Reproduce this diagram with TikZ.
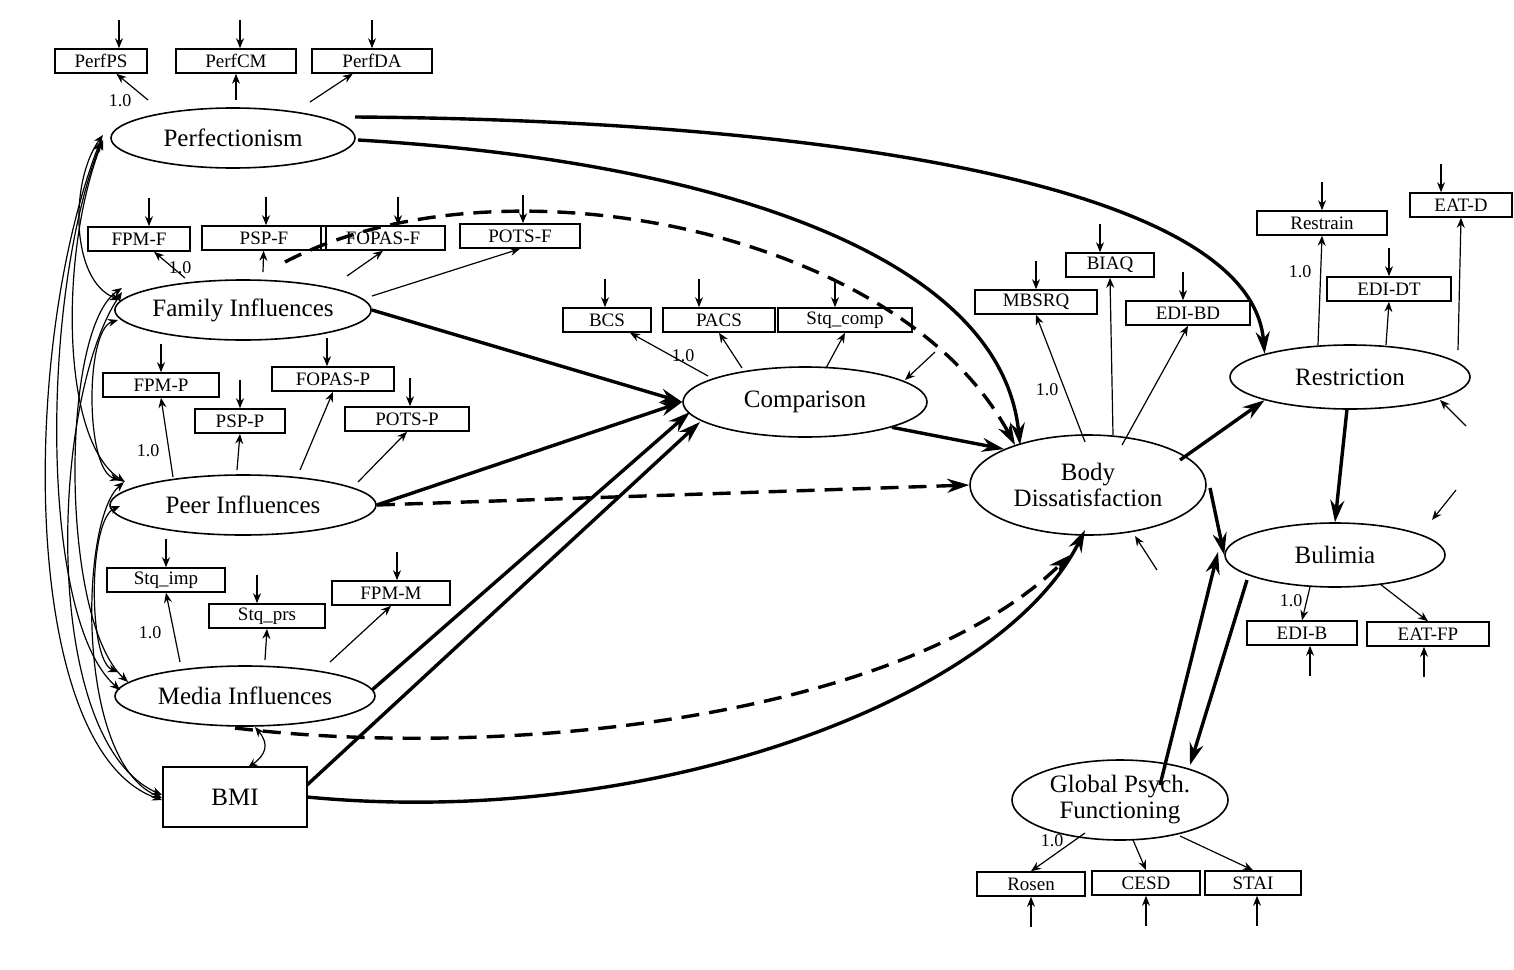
\documentclass[tikz,border=0pt]{standalone}
\usepackage{fontspec}
\setmainfont{Liberation Serif}
\usetikzlibrary{shapes.geometric,arrows.meta,calc}
\begin{document}
\begin{tikzpicture}[x=0.5pt,y=-0.5pt,
 ell/.style={draw,ellipse,line width=0.8pt,inner sep=0pt,font=\fontsize{12.5}{13}\selectfont,align=center},
 bx/.style={draw,rectangle,line width=0.8pt,inner sep=0pt,minimum height=12pt,font=\fontsize{9.5}{10}\selectfont},
 thin/.style={line width=0.6pt,-{Stealth[length=5pt,width=4pt]}},
 err/.style={line width=0.6pt,{Stealth[length=5pt,width=4pt]}-},
 thk/.style={line width=1.7pt,-{Stealth[length=11pt,width=7pt]}},
 dsh/.style={line width=1.7pt,dash pattern=on 9pt off 5pt,-{Stealth[length=11pt,width=7pt]}},
 cov/.style={line width=0.6pt,{Stealth[length=5pt,width=4pt]}-{Stealth[length=5pt,width=4pt]}},
 one/.style={font=\fontsize{9}{10}\selectfont}]
\useasboundingbox (0,0) rectangle (1514,969);
% latent
\node[ell,minimum width=122pt,minimum height=30pt] (perf) at (233,138) {Perfectionism};
\node[ell,minimum width=125pt,minimum height=30pt] (fam) at (243,310) {Family Influences};
\node[ell,minimum width=133pt,minimum height=30pt] (peer) at (243,505) {Peer Influences};
\node[ell,minimum width=130pt,minimum height=30pt] (med) at (245,696) {Media Influences};
\node[draw,rectangle,line width=0.8pt,minimum width=72pt,minimum height=30pt,font=\fontsize{12.5}{13}\selectfont] (bmi) at (235,797) {BMI};
\node[ell,minimum width=122pt,minimum height=35pt] (comp) at (805,402) {Comparison};
\node[ell,minimum width=118pt,minimum height=50pt] (bd) at (1088,485) {Body\\Dissatisfaction};
\node[ell,minimum width=120pt,minimum height=32pt] (res) at (1350,377) {Restriction};
\node[ell,minimum width=110pt,minimum height=32pt] (bul) at (1335,555) {Bulimia};
\node[ell,minimum width=108pt,minimum height=40pt] (gpf) at (1120,800) {Global Psych.\\Functioning};
% boxes
\node[bx,minimum width=46pt] (PerfPS) at (101,61) {PerfPS};
\node[bx,minimum width=60pt] (PerfCM) at (236,61) {PerfCM};
\node[bx,minimum width=60pt] (PerfDA) at (372,61) {PerfDA};
\node[bx,minimum width=51pt] (FPMF) at (139,239) {FPM-F};
\node[bx,minimum width=62pt] (PSPF) at (264,238) {PSP-F};
\node[bx,minimum width=62pt] (FOPASF) at (383,238) {FOPAS-F};
\node[bx,minimum width=60pt] (POTSF) at (520,236) {POTS-F};
\node[bx,minimum width=44pt] (BCS) at (607,320) {BCS};
\node[bx,minimum width=56pt] (PACS) at (719,320) {PACS};
\node[bx,minimum width=67pt] (Stqc) at (845,320) {Stq\_comp};
\node[bx,minimum width=58pt] (FPMP) at (161,385) {FPM-P};
\node[bx,minimum width=45pt] (PSPP) at (240,421) {PSP-P};
\node[bx,minimum width=61pt] (FOPASP) at (333,379) {FOPAS-P};
\node[bx,minimum width=62pt] (POTSP) at (407,419) {POTS-P};
\node[bx,minimum width=59pt] (Stqi) at (166,580) {Stq\_imp};
\node[bx,minimum width=58pt] (Stqp) at (267,616) {Stq\_prs};
\node[bx,minimum width=59pt] (FPMM) at (391,593) {FPM-M};
\node[bx,minimum width=61pt] (MBSRQ) at (1036,302) {MBSRQ};
\node[bx,minimum width=44pt] (BIAQ) at (1110,265) {BIAQ};
\node[bx,minimum width=62pt] (EDIBD) at (1188,313) {EDI-BD};
\node[bx,minimum width=65pt] (Restrain) at (1322,223) {Restrain};
\node[bx,minimum width=51pt] (EATD) at (1461,205) {EAT-D};
\node[bx,minimum width=62pt] (EDIDT) at (1389,289) {EDI-DT};
\node[bx,minimum width=55pt] (EDIB) at (1302,633) {EDI-B};
\node[bx,minimum width=61pt] (EATFP) at (1428,634) {EAT-FP};
\node[bx,minimum width=54pt] (Rosen) at (1031,884) {Rosen};
\node[bx,minimum width=54pt] (CESD) at (1146,883) {CESD};
\node[bx,minimum width=48pt] (STAI) at (1253,883) {STAI};
% error arrows from above
\foreach \n/\dx in {PerfPS/18,PerfCM/4,PerfDA/0,FPMF/10,PSPF/2,FOPASF/15,POTSF/3,BCS/-2,PACS/-20,Stqc/-10,FPMP/0,PSPP/0,FOPASP/-6,POTSP/3,Stqi/0,Stqp/-10,FPMM/6,MBSRQ/0,BIAQ/-10,EDIBD/-5,Restrain/0,EATD/-20,EDIDT/0}
  \draw[err] ($(\n.north)+(\dx,0)$) -- ++(0,-28);
% error arrows from below
\foreach \n/\dx in {EDIB/8,EATFP/-4,Rosen/0,CESD/0,STAI/4}
  \draw[err] ($(\n.south)+(\dx,0)$) -- ++(0,30);
\coordinate (eComp) at (935,352); \draw[thin] (eComp) -- (905,380);
\coordinate (eBD) at (1157,570); \draw[thin] (eBD) -- (1135,536);
\coordinate (eRes) at (1466,426); \draw[thin] (eRes) -- (1440,400);
\coordinate (eBul) at (1456,490); \draw[thin] (eBul) -- (1432,520);
% measurement
\draw[thin] (148,100) -- (PerfPS); \node[one] at (120,101) {1.0};
\draw[thin] (236,100) -- (PerfCM);
\draw[thin] (310,102) -- (PerfDA);
\draw[thin] (185,278) -- (FPMF); \node[one] at (180,268) {1.0};
\draw[thin] (263,272) -- (PSPF);
\draw[thin] (347,276) -- (FOPASF.south);
\draw[thin] (372,296) -- (POTSF.south);
\draw[thin] (708,376) -- (BCS); \node[one] at (683,356) {1.0};
\draw[thin] (742,368) -- (PACS.south);
\draw[thin] (826,368) -- (Stqc.south);
\draw[thin] (173,477) -- (FPMP.south); \node[one] at (148,451) {1.0};
\draw[thin] (237,470) -- (PSPP.south);
\draw[thin] (300,470) -- (FOPASP.south);
\draw[thin] (358,482) -- (POTSP.south);
\draw[thin] (180,662) -- (Stqi.south); \node[one] at (150,633) {1.0};
\draw[thin] (265,660) -- (Stqp.south);
\draw[thin] (330,662) -- (FPMM.south);
\draw[thin] (1085,442) -- (MBSRQ.south); \node[one] at (1047,390) {1.0};
\draw[thin] (1113,435) -- (BIAQ.south);
\draw[thin] (1122,445) -- (EDIBD.south);
\draw[thin] (1318,345) -- (Restrain.south); \node[one] at (1300,272) {1.0};
\draw[thin] (1386,345) -- (EDIDT.south);
\draw[thin] (1458,350) -- (EATD.south);
\draw[thin] (1310,587) -- (EDIB.north); \node[one] at (1291,601) {1.0};
\draw[thin] (1380,584) -- (EATFP.north);
\draw[thin] (1085,833) -- (Rosen.north); \node[one] at (1052,841) {1.0};
\draw[thin] (1133,840) -- (CESD.north);
\draw[thin] (1180,836) -- (STAI.north);
% structural
\draw[thk] (355,117) .. controls (800,120) and (1250,180) .. (res.north west);
\draw[thk] (358,140) .. controls (700,160) and (1000,250) .. (1020,445);
\draw[thk] (fam.east) -- (comp.west);
\draw[dsh] (285,262) .. controls (500,150) and (900,230) .. (1015,445);
\draw[thk] (peer.east) -- (comp.west);
\draw[dsh] (peer.east) -- (bd.west);
\draw[thk] (372,690) -- (690,412);
\draw[thk] (307,785) -- (700,422);
\draw[thk] (307,797) .. controls (650,830) and (1000,700) .. (1085,530);
\draw[dsh] (235,728) .. controls (500,760) and (900,720) .. (1070,555);
\draw[thk] (comp.south east) -- (bd.north west);
\draw[thk] (1180,460) -- (res.south west);
\draw[thk] (1210,488) -- (bul.west);
\draw[thk] (1347,409) -- (bul.north);
\draw[thk] (1160,785) -- (1218,552);
\draw[thk] (1247,580) -- (1190,765);
% covariances
\draw[cov] (255,727) .. controls (270,745) and (265,755) .. (248,768);
\draw[cov] (118,320) .. controls (85,330) and (85,470) .. (120,480);
\draw[cov] (120,506) .. controls (88,520) and (88,660) .. (118,672);
\draw[cov] (103,135) .. controls (70,180) and (70,280) .. (120,300);
\draw[cov] (103,140) .. controls (60,250) and (60,440) .. (125,482);
\draw[cov] (102,140) .. controls (40,300) and (40,620) .. (120,690);
\draw[cov] (100,142) .. controls (20,350) and (20,750) .. (162,800);
\draw[cov] (122,288) .. controls (60,330) and (60,620) .. (128,682);
\draw[cov] (122,292) .. controls (50,400) and (40,740) .. (162,795);
\draw[cov] (124,482) .. controls (80,520) and (75,760) .. (162,798);
\end{tikzpicture}
\end{document}
